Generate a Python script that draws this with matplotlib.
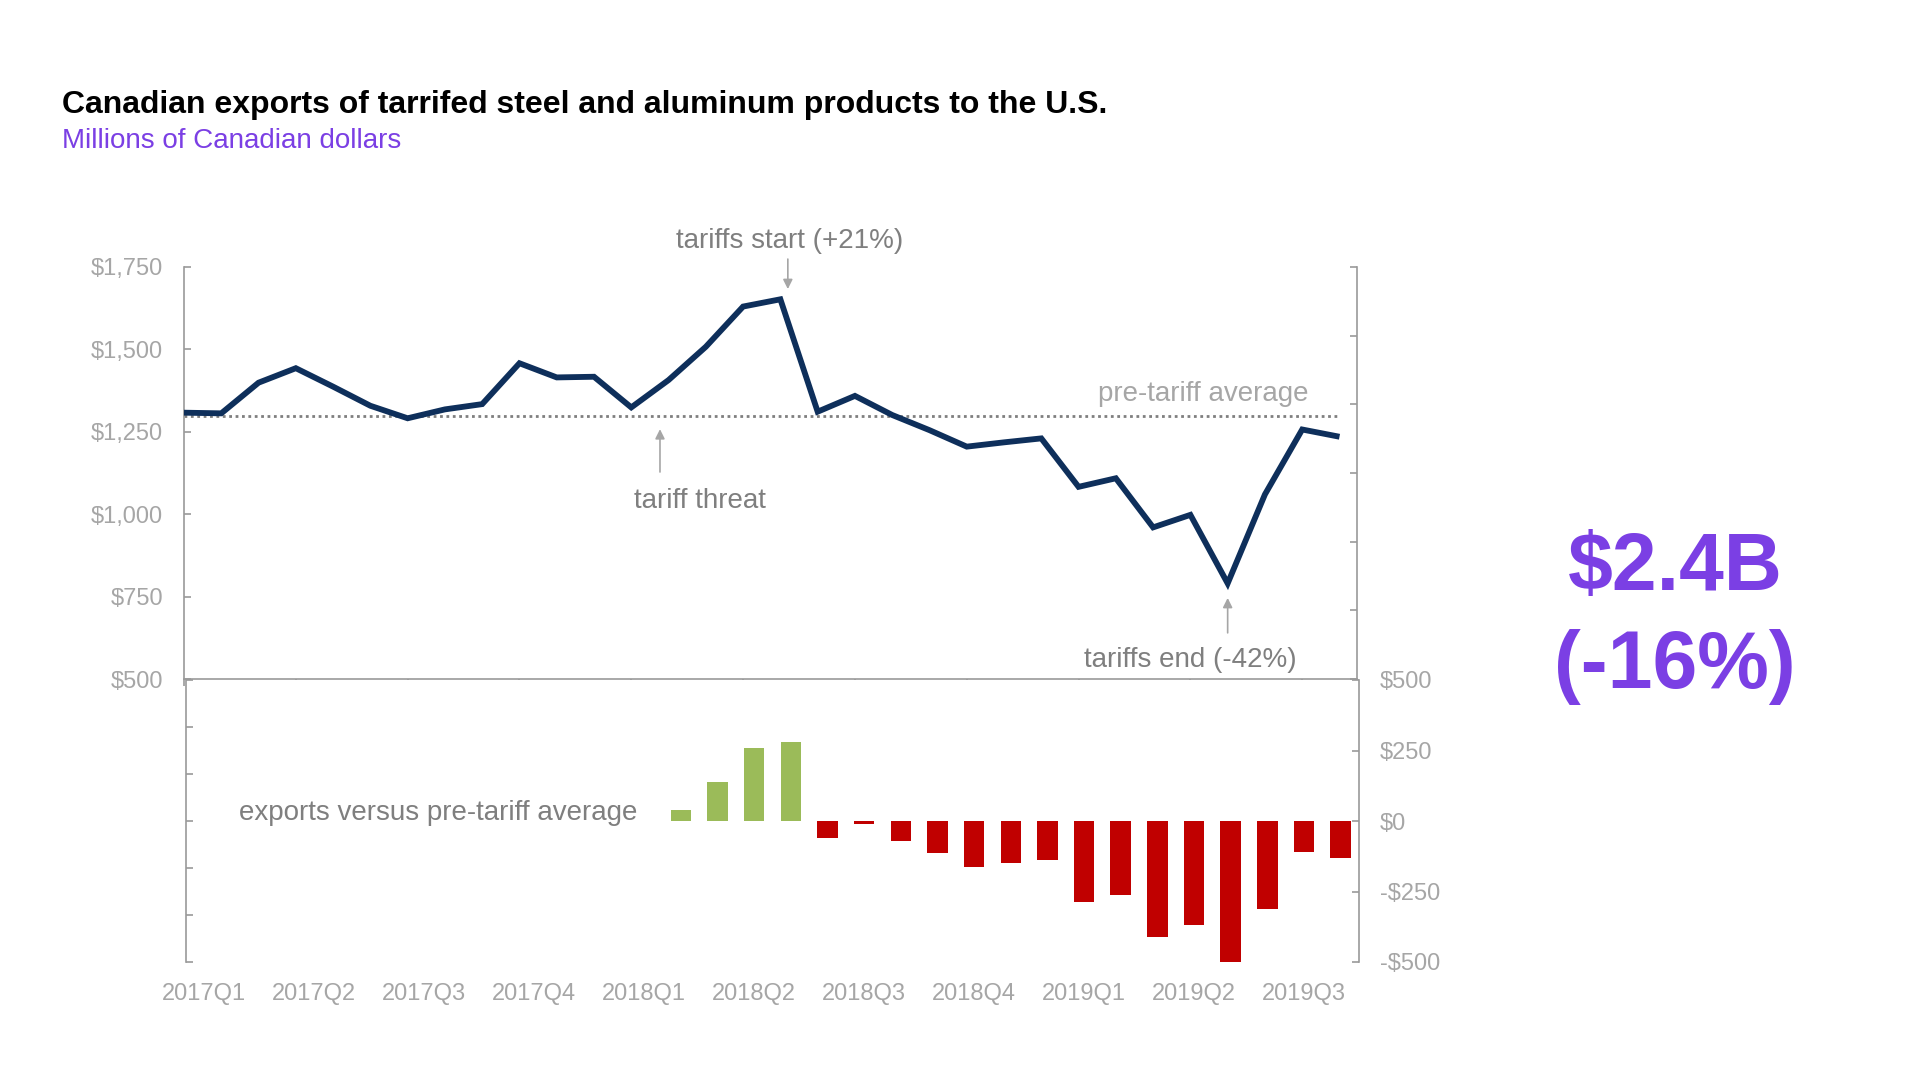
import matplotlib.pyplot as plt
from matplotlib.ticker import FixedLocator
import numpy as np

plt.rcParams['font.family'] = ['Liberation Sans', 'DejaVu Sans']

# monthly exports, Jan 2017 - Aug 2019 (millions of CAD)
exports = [1308, 1306, 1399, 1443, 1387, 1329, 1291, 1318, 1334, 1458, 1415, 1417,
           1324, 1407, 1508, 1630, 1652, 1311, 1359, 1301, 1255, 1205, 1218, 1230,
           1083, 1109, 960, 998, 790, 1060, 1257, 1235]
pre_tariff_avg = 1298

# exports versus pre-tariff average, Feb 2018 - Aug 2019
gap_first = 13   # month index of Feb 2018
gap = [39, 138, 259, 280, -59, -10, -70, -112, -162, -148, -138, -286,
       -261, -413, -368, -506, -313, -109, -130]

quarters = ['2017Q1', '2017Q2', '2017Q3', '2017Q4', '2018Q1', '2018Q2',
            '2018Q3', '2018Q4', '2019Q1', '2019Q2', '2019Q3']

top_ticks = [500, 750, 1000, 1250, 1500, 1750]
bot_ticks = [-500, -250, 0, 250, 500]

navy = '#0e2f5b'
green = '#9bbb59'
red = '#c00000'
purple = '#7b3fe4'
axis_grey = '#9a9a9a'
label_grey = '#a6a6a6'
note_grey = '#7f7f7f'

W, H = 1920, 1080
fig = plt.figure(figsize=(W / 100, H / 100), dpi=100)

def box(left, top, right, bottom):
    return [left / W, 1 - bottom / H, (right - left) / W, (bottom - top) / H]

ax = fig.add_axes(box(184, 267, 1357, 679))
axb = fig.add_axes(box(186, 680, 1359, 962))

months = np.arange(len(exports))

#### top panel: monthly exports ####
ax.plot(months, exports, color=navy, lw=4.2, solid_joinstyle='miter', solid_capstyle='butt',
        zorder=3, clip_on=False)
ax.hlines(pre_tariff_avg, months[0], months[-1], colors=note_grey, linestyles=(0, (1, 1.3)), lw=2, zorder=2)

ax.set_xlim(0, 31.47)
ax.set_ylim(top_ticks[0], top_ticks[-1])
ax.set_xticks(months[::3])
ax.set_xticklabels([])
ax.set_yticks(top_ticks)
ax.set_yticklabels(['${:,}'.format(v) for v in top_ticks])
ax.yaxis.set_minor_locator(FixedLocator(np.linspace(top_ticks[0], top_ticks[-1], 7)))
ax.yaxis.remove_overlapping_locs = False
ax.tick_params(axis='y', which='major', direction='in', length=5, width=1.2, color=axis_grey,
               labelcolor=label_grey, labelsize=17, pad=15, left=True, right=False)
ax.tick_params(axis='y', which='minor', direction='in', length=5, width=1.2, color=axis_grey,
               left=False, right=True)
ax.tick_params(axis='x', direction='out', length=5, width=1.2, color=axis_grey)
ax.spines['top'].set_visible(False)
for s in ['left', 'right', 'bottom']:
    ax.spines[s].set_color(axis_grey)
    ax.spines[s].set_linewidth(1.2)

# annotations
arrow = dict(arrowstyle='-|>', color=label_grey, lw=1.2, mutation_scale=14, shrinkA=0, shrinkB=0)
ax.annotate('', xy=(16.2, 1683), xytext=(16.2, 1774), arrowprops=arrow, annotation_clip=False)
ax.text(16.26, 1828, 'tariffs start (+21%)', ha='center', va='center', fontsize=20, color=note_grey, clip_on=False)
ax.annotate('', xy=(12.77, 1258), xytext=(12.77, 1128), arrowprops=arrow)
ax.text(13.85, 1041, 'tariff threat', ha='center', va='center', fontsize=20, color=note_grey)
ax.text(27.34, 1366, 'pre-tariff average', ha='center', va='center', fontsize=20, color=label_grey)
ax.annotate('', xy=(28.0, 746), xytext=(28.0, 640), arrowprops=arrow)
ax.text(26.99, 558, 'tariffs end (-42%)', ha='center', va='center', fontsize=20, color=note_grey)

#### bottom panel: gap to pre-tariff average ####
gap_months = months[gap_first:gap_first + len(gap)]
colors = [green if v > 0 else red for v in gap]
axb.bar(gap_months, gap, width=0.56, color=colors, zorder=2)

axb.set_xlim(-0.5, 31.5)
axb.set_ylim(bot_ticks[0], bot_ticks[-1])
axb.set_xticks(months[::3])
axb.set_xticklabels(quarters)
axb.yaxis.tick_right()
axb.set_yticks(bot_ticks)
axb.set_yticklabels([('-$' if v < 0 else '$') + str(abs(v)) for v in bot_ticks])
axb.yaxis.set_minor_locator(FixedLocator(np.linspace(bot_ticks[0], bot_ticks[-1], 7)))
axb.yaxis.remove_overlapping_locs = False
axb.tick_params(axis='y', which='major', direction='in', length=5, width=1.2, color=axis_grey,
                labelcolor=label_grey, labelsize=17, pad=15, left=False, right=True,
                labelleft=False, labelright=True)
axb.tick_params(axis='y', which='minor', direction='in', length=5, width=1.2, color=axis_grey,
                left=True, right=False)
axb.tick_params(axis='x', length=0, pad=15, labelcolor=label_grey, labelsize=17)
axb.spines['top'].set_visible(False)
axb.spines['bottom'].set_visible(False)
for s in ['left', 'right']:
    axb.spines[s].set_color(axis_grey)
    axb.spines[s].set_linewidth(1.2)

axb.text(6.37, 30, 'exports versus pre-tariff average', ha='center', va='center', fontsize=20, color=note_grey)

#### titles and callout ####
fig.text(62 / W, 1 - 113 / H, 'Canadian exports of tarrifed steel and aluminum products to the U.S.',
         fontsize=23, fontweight='bold', color='black', va='baseline')
fig.text(62 / W, 1 - 148 / H, 'Millions of Canadian dollars', fontsize=20, color=purple, va='baseline')

fig.text(1675 / W, 1 - 590 / H, '$2.4B', fontsize=58, fontweight='bold', color=purple, ha='center', va='baseline')
fig.text(1675 / W, 1 - 688 / H, '(-16%)', fontsize=58, fontweight='bold', color=purple, ha='center', va='baseline')

fig.savefig('out.png', dpi=100, facecolor='white')
